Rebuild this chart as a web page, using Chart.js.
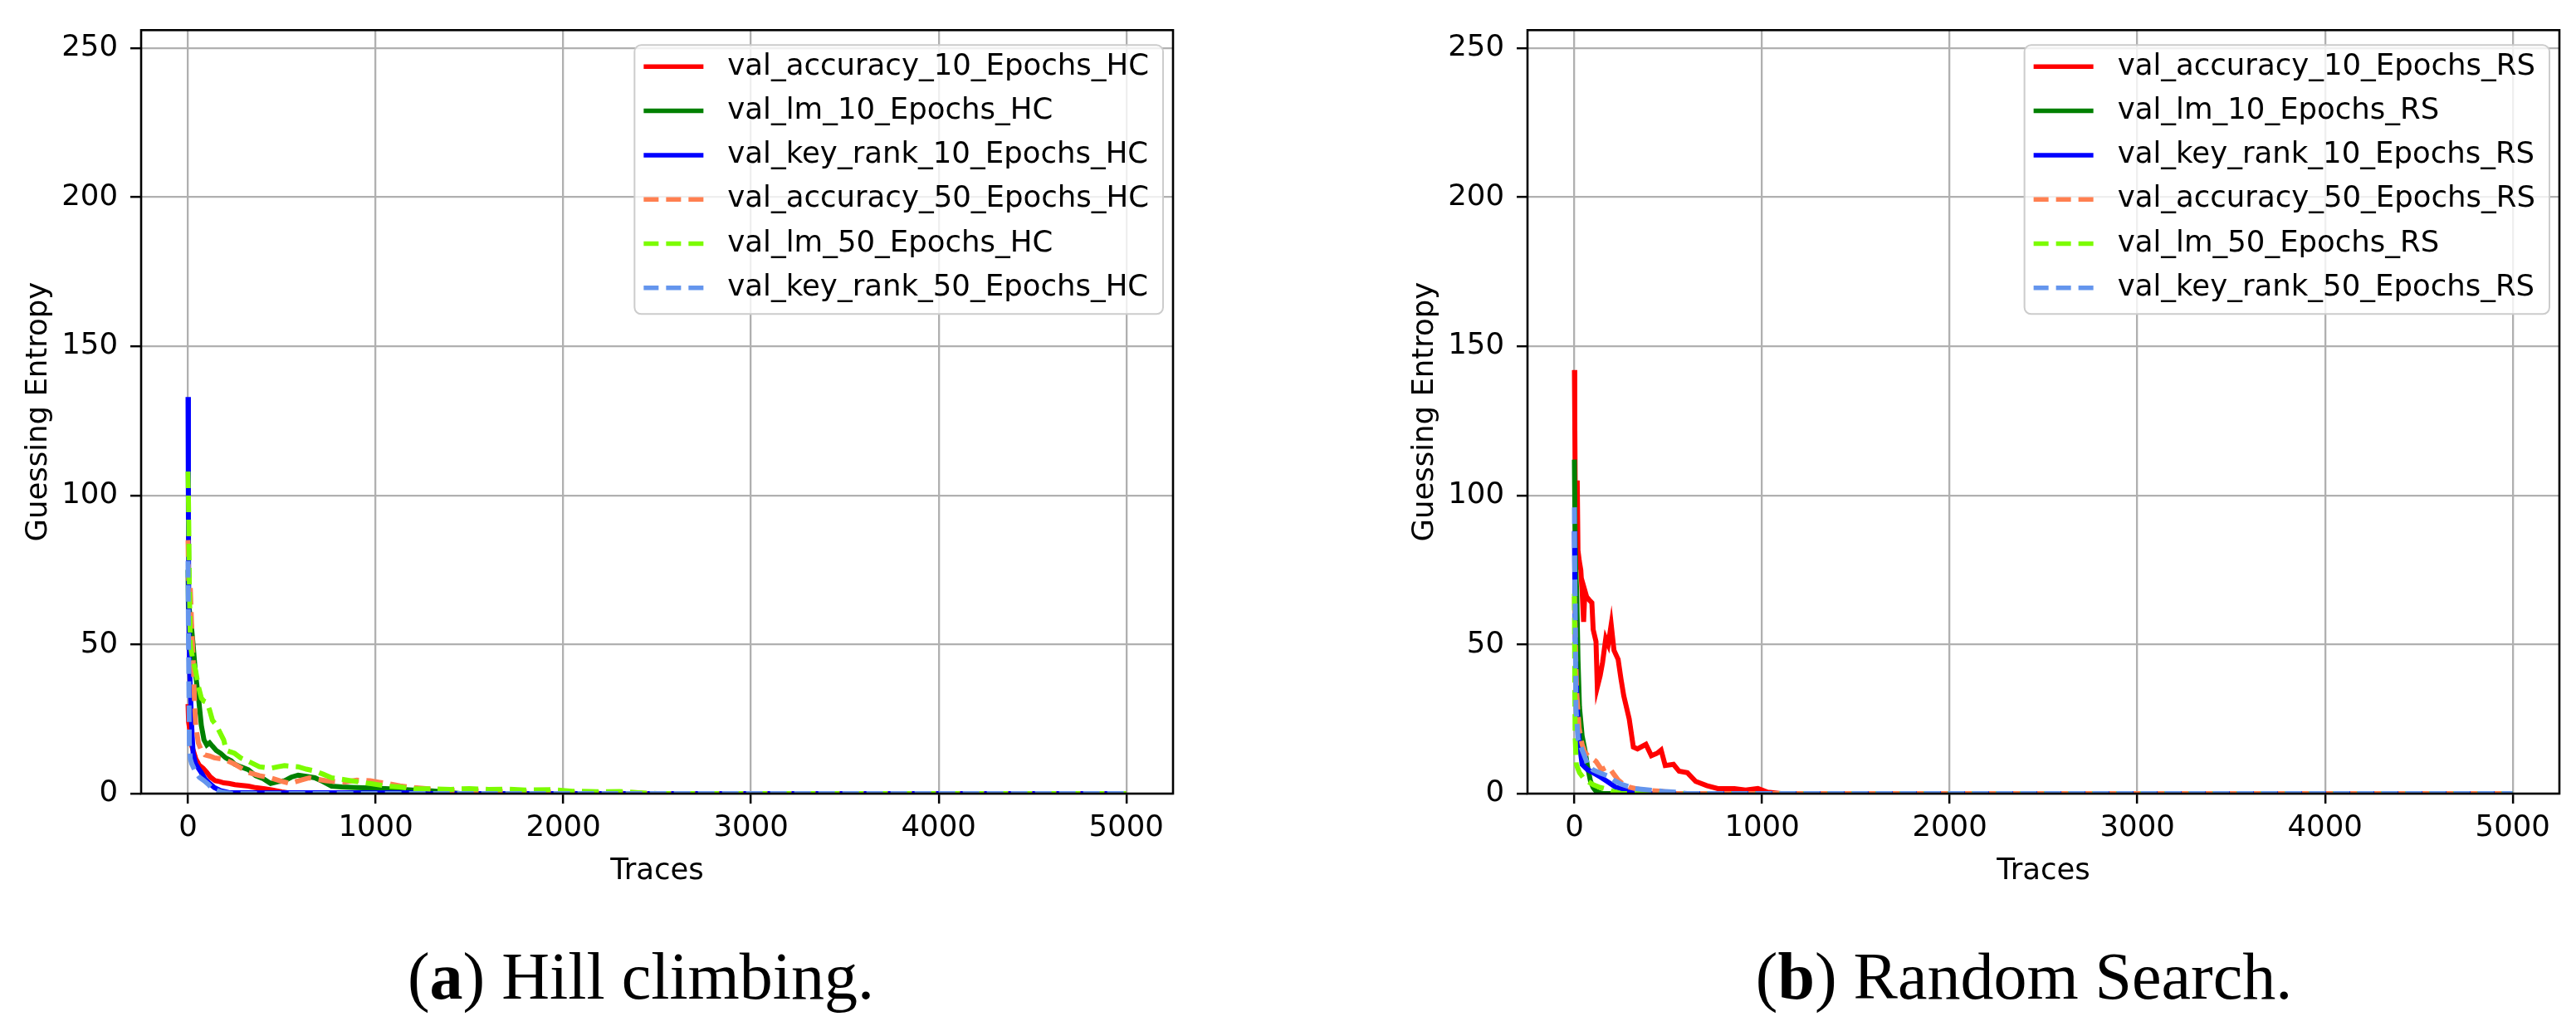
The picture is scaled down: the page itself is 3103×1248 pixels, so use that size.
<!DOCTYPE html>
<html>
<head>
<meta charset="utf-8">
<script src="https://cdn.jsdelivr.net/npm/chart.js@4.4.1/dist/chart.umd.min.js"></script>
<style>
  body { margin: 0; background: #fff; width: 3103px; height: 1248px; overflow: hidden; position: relative; }
  .panel { position: absolute; top: 0; width: 1433px; height: 1100px; }
  .caption { position: absolute; top: 1136px; font-family: 'Liberation Serif', 'DejaVu Serif', serif; font-size: 80px; line-height: 80px; color: #000; white-space: nowrap; transform: translateX(-50%); }
</style>
</head>
<body>
<div class="panel" style="left:0px"><canvas id="hcChart" width="1433" height="1100"></canvas></div>
<div class="panel" style="left:1670px"><canvas id="rsChart" width="1433" height="1100"></canvas></div>
<div class="caption" style="left:772px">(<b>a</b>) Hill climbing.</div>
<div class="caption" style="left:2438px">(<b>b</b>) Random Search.</div>
<script>
const FONT = "'DejaVu Sans', sans-serif";

const xTicks = [0, 1000, 2000, 3000, 4000, 5000];
const yTicks = [0, 50, 100, 150, 200, 250];

const seriesColors = ['#ff0000', '#008000', '#0000ff', '#ff7f50', '#7cfc00', '#6495ed'];
const hcLabels = ['val_accuracy_10_Epochs_HC', 'val_lm_10_Epochs_HC', 'val_key_rank_10_Epochs_HC',
                  'val_accuracy_50_Epochs_HC', 'val_lm_50_Epochs_HC', 'val_key_rank_50_Epochs_HC'];
const rsLabels = ['val_accuracy_10_Epochs_RS', 'val_lm_10_Epochs_RS', 'val_key_rank_10_Epochs_RS',
                  'val_accuracy_50_Epochs_RS', 'val_lm_50_Epochs_RS', 'val_key_rank_50_Epochs_RS'];

// Hill climbing (HC)
const hcAcc10X = [0, 3, 8, 12, 20, 30, 41, 60, 80, 100, 120, 145, 170, 190, 218, 250, 280, 322, 360, 410, 450, 500, 560, 4999];
const hcAcc10Y = [30, 24, 22, 19, 16, 14, 11.7, 9.5, 8.5, 7.1, 5.5, 4.3, 4.0, 3.6, 3.4, 3.0, 2.8, 2.5, 2.0, 1.6, 1.2, 0.6, 0, 0];
const hcLm10X = [0, 2, 5, 10, 18, 27, 40, 56, 71, 85, 100, 115, 130, 150, 174, 200, 230, 248, 280, 322, 360, 400, 440, 480, 514, 550, 587, 630, 676, 720, 765, 820, 900, 1000, 1100, 1200, 1300, 1355, 1450, 4999];
const hcLm10Y = [75, 62, 58, 60, 56, 50, 40, 32, 22.8, 18, 16.3, 17, 15.9, 14.5, 13.5, 12, 11, 9.9, 9, 8, 6, 5, 3.4, 4, 4.3, 5.5, 6.2, 5.8, 5.3, 4, 2.5, 2.2, 2.0, 1.8, 1.5, 1.2, 0.9, 0.6, 0, 0];
const hcKr10X = [0, 2, 4, 7, 12, 20, 27, 40, 55, 71, 90, 115, 140, 174, 220, 1200, 1250, 4999];
const hcKr10Y = [133, 92, 60, 45, 35, 22, 13.5, 10, 8.5, 7, 5, 3.4, 2, 1, 0.3, 0.3, 0, 0];
const hcAcc50X = [0, 3, 7, 12, 20, 27, 35, 41, 55, 71, 90, 115, 140, 174, 210, 248, 285, 322, 380, 440, 490, 543, 600, 647, 690, 735, 790, 838, 900, 971, 1020, 1060, 1130, 1207, 1300, 1400, 1550, 1700, 1900, 2100, 2400, 2450, 4999];
const hcAcc50Y = [85, 72, 70, 69, 55, 46, 30, 22.8, 17, 14.5, 13, 12.6, 12, 11.7, 11, 9.9, 8.5, 7.1, 6, 5.3, 4.3, 3.4, 4.5, 5.3, 4.8, 4.3, 4, 3.9, 4.5, 4.3, 3.8, 3.4, 2.6, 2, 1.5, 1.1, 0.9, 0.7, 0.6, 0.4, 0.3, 0, 0];
const hcLm50X = [0, 3, 7, 12, 25, 41, 55, 71, 85, 100, 115, 130, 150, 174, 190, 204, 225, 248, 280, 322, 380, 440, 480, 514, 550, 587, 630, 676, 720, 765, 840, 912, 990, 1060, 1130, 1207, 1300, 1400, 1500, 1600, 1700, 1800, 1945, 2050, 2200, 2300, 2400, 2500, 4999];
const hcLm50Y = [108, 95, 70, 50, 45, 41, 36, 32, 31, 30.6, 28, 24.6, 23, 20, 18, 14.5, 14, 13.5, 12, 10.8, 9, 8.5, 9, 9.4, 9.2, 9, 8.2, 7.6, 6.5, 5.3, 4.6, 3.9, 3.2, 2.5, 2.2, 1.6, 1.6, 1.4, 1.7, 1.4, 1.5, 1.2, 1.3, 0.8, 0.6, 0.7, 0.3, 0, 0];
const hcKr50X = [0, 2, 4, 7, 12, 20, 41, 60, 86, 110, 130, 174, 230, 4999];
const hcKr50Y = [78, 55, 41, 17, 11.7, 10, 7.1, 5.5, 4.3, 3, 1.6, 0.6, 0, 0];

// Random search (RS)
const rsAcc10X = [0, 2, 4, 8, 12, 15, 19, 26, 34, 41, 49, 56, 65, 78, 93, 100, 115, 122, 137, 150, 167, 180, 196, 211, 233, 248, 263, 292, 314, 336, 360, 381, 410, 440, 462, 484, 528, 558, 602, 646, 705, 764, 853, 912, 978, 1030, 1100, 4999];
const rsAcc10Y = [142, 125, 104.5, 90, 100, 105, 81.5, 78, 75, 68, 57.6, 68, 66, 65, 64, 55, 51, 35.7, 39.5, 44, 52, 50, 56.7, 48, 45, 38.5, 32.8, 25, 15.6, 15, 15.8, 16.5, 12.7, 13.5, 14.6, 9.4, 9.8, 7.5, 7, 4.1, 2.7, 1.7, 1.7, 1.2, 1.7, 0.5, 0, 0];
const rsLm10X = [0, 3, 7, 12, 19, 27, 41, 56, 70, 86, 100, 115, 150, 4999];
const rsLm10Y = [112, 89, 75, 68, 45, 29, 19.4, 14.6, 9, 4.1, 2, 0.8, 0, 0];
const rsKr10X = [0, 2, 4, 8, 12, 20, 27, 41, 70, 100, 140, 174, 218, 292, 340, 4999];
const rsKr10Y = [88, 72, 53, 42, 34, 22, 16.5, 9.8, 8, 7, 5.5, 4.1, 2.2, 0.8, 0, 0];
const rsAcc50X = [0, 4, 8, 12, 25, 41, 55, 71, 90, 115, 145, 170, 189, 210, 233, 260, 292, 330, 366, 469, 520, 4999];
const rsAcc50Y = [66, 55, 42, 34, 22, 16.5, 14, 12.7, 12, 10.8, 8, 8.8, 8.4, 6.5, 4.6, 3.2, 2.2, 1.6, 1.2, 0.8, 0, 0];
const rsLm50X = [0, 2, 4, 10, 27, 45, 71, 100, 130, 170, 204, 250, 4999];
const rsLm50Y = [67, 35, 19, 9.8, 7, 5.5, 4.1, 3, 2.2, 1.5, 0.8, 0, 0];
const rsKr50X = [0, 2, 4, 8, 19, 41, 70, 100, 140, 174, 210, 248, 322, 400, 469, 543, 600, 4999];
const rsKr50Y = [96, 75, 62, 29, 18.5, 14.6, 10, 7.9, 6.8, 6, 4.5, 3.2, 1.7, 1.2, 0.8, 0.5, 0, 0];

function points(xs, ys) {
    return xs.map((x, i) => ({x: x, y: ys[i]}));
}

function makeDatasets(labels, series) {
    return series.map((s, i) => ({
        label: labels[i],
        data: points(s[0], s[1]),
        borderColor: seriesColors[i],
        borderWidth: 6,
        borderDash: i >= 3 ? [20, 9] : [],
        pointRadius: 0,
        tension: 0,
        fill: false,
        order: 5 - i
    }));
}

// black box around the plot area, like matplotlib spines
const frame = {
    id: 'frame',
    afterDatasetsDraw(chart) {
        const {ctx, chartArea: a} = chart;
        ctx.save();
        ctx.strokeStyle = '#000';
        ctx.lineWidth = 2.6;
        ctx.strokeRect(a.left, a.top, a.right - a.left, a.bottom - a.top);
        ctx.restore();
    }
};

// legend inside the plot, top right, with a rounded translucent box
const boxLegend = {
    id: 'boxLegend',
    afterDatasetsDraw(chart) {
        const {ctx, chartArea: a} = chart;
        const sets = chart.data.datasets;
        ctx.save();
        ctx.font = '35.5px ' + FONT;
        const textW = Math.max(...sets.map(d => ctx.measureText(d.label).width));
        const w = 112 + textW + 17, h = 324;
        const x = a.right - 12 - w, y = a.top + 18, r = 8;
        ctx.beginPath();
        ctx.moveTo(x + r, y);
        ctx.arcTo(x + w, y, x + w, y + h, r);
        ctx.arcTo(x + w, y + h, x, y + h, r);
        ctx.arcTo(x, y + h, x, y, r);
        ctx.arcTo(x, y, x + w, y, r);
        ctx.closePath();
        ctx.fillStyle = 'rgba(255,255,255,0.8)';
        ctx.fill();
        ctx.strokeStyle = '#cccccc';
        ctx.lineWidth = 2;
        ctx.stroke();
        sets.forEach((d, i) => {
            const cy = y + 26 + i * 53.3;
            ctx.beginPath();
            ctx.setLineDash(d.borderDash.length ? [18, 9] : []);
            ctx.strokeStyle = d.borderColor;
            ctx.lineWidth = 5.5;
            ctx.moveTo(x + 11, cy);
            ctx.lineTo(x + 83, cy);
            ctx.stroke();
            ctx.setLineDash([]);
            ctx.fillStyle = '#000';
            ctx.textBaseline = 'middle';
            ctx.textAlign = 'left';
            ctx.fillText(d.label, x + 112, cy);
        });
        ctx.restore();
    }
};

function drawChart(id, labels, series) {
    const ctx = document.getElementById(id).getContext('2d');
    return new Chart(ctx, {
        type: 'line',
        data: {
            datasets: makeDatasets(labels, series)
        },
        options: {
            responsive: false,
            animation: false,
            devicePixelRatio: 1,
            layout: {
                padding: {top: 31, right: 20, bottom: 24, left: 0}
            },
            scales: {
                x: {
                    type: 'linear',
                    min: -250,
                    max: 5249,
                    afterBuildTicks: s => { s.ticks = xTicks.map(v => ({value: v})); },
                    afterFit: s => { s.height = 120; },
                    grid: {
                        color: '#b0b0b0',
                        lineWidth: 2.3,
                        tickColor: '#000',
                        tickWidth: 2.5,
                        tickLength: 12
                    },
                    border: {display: false},
                    ticks: {
                        color: '#000',
                        padding: 8,
                        maxRotation: 0,
                        font: {family: FONT, size: 35.5},
                        callback: v => String(v)
                    },
                    title: {
                        display: true,
                        text: 'Traces',
                        color: '#000',
                        padding: {top: 0, bottom: 5},
                        font: {family: FONT, size: 35.5}
                    }
                },
                y: {
                    type: 'linear',
                    min: 0,
                    max: 256,
                    afterBuildTicks: s => { s.ticks = yTicks.map(v => ({value: v})); },
                    afterFit: s => { s.width = 170; },
                    grid: {
                        color: '#b0b0b0',
                        lineWidth: 2.3,
                        tickColor: '#000',
                        tickWidth: 2.5,
                        tickLength: 13
                    },
                    border: {display: false},
                    ticks: {
                        color: '#000',
                        padding: 15,
                        font: {family: FONT, size: 35.5},
                        callback: v => String(v)
                    },
                    title: {
                        display: true,
                        text: 'Guessing Entropy',
                        color: '#000',
                        padding: {top: 25, bottom: 0},
                        font: {family: FONT, size: 35.5}
                    }
                }
            },
            plugins: {
                legend: {display: false},
                tooltip: {enabled: false}
            }
        },
        plugins: [frame, boxLegend]
    });
}

drawChart('hcChart', hcLabels, [
    [hcAcc10X, hcAcc10Y], [hcLm10X, hcLm10Y], [hcKr10X, hcKr10Y],
    [hcAcc50X, hcAcc50Y], [hcLm50X, hcLm50Y], [hcKr50X, hcKr50Y]
]);
drawChart('rsChart', rsLabels, [
    [rsAcc10X, rsAcc10Y], [rsLm10X, rsLm10Y], [rsKr10X, rsKr10Y],
    [rsAcc50X, rsAcc50Y], [rsLm50X, rsLm50Y], [rsKr50X, rsKr50Y]
]);
</script>
</body>
</html>
